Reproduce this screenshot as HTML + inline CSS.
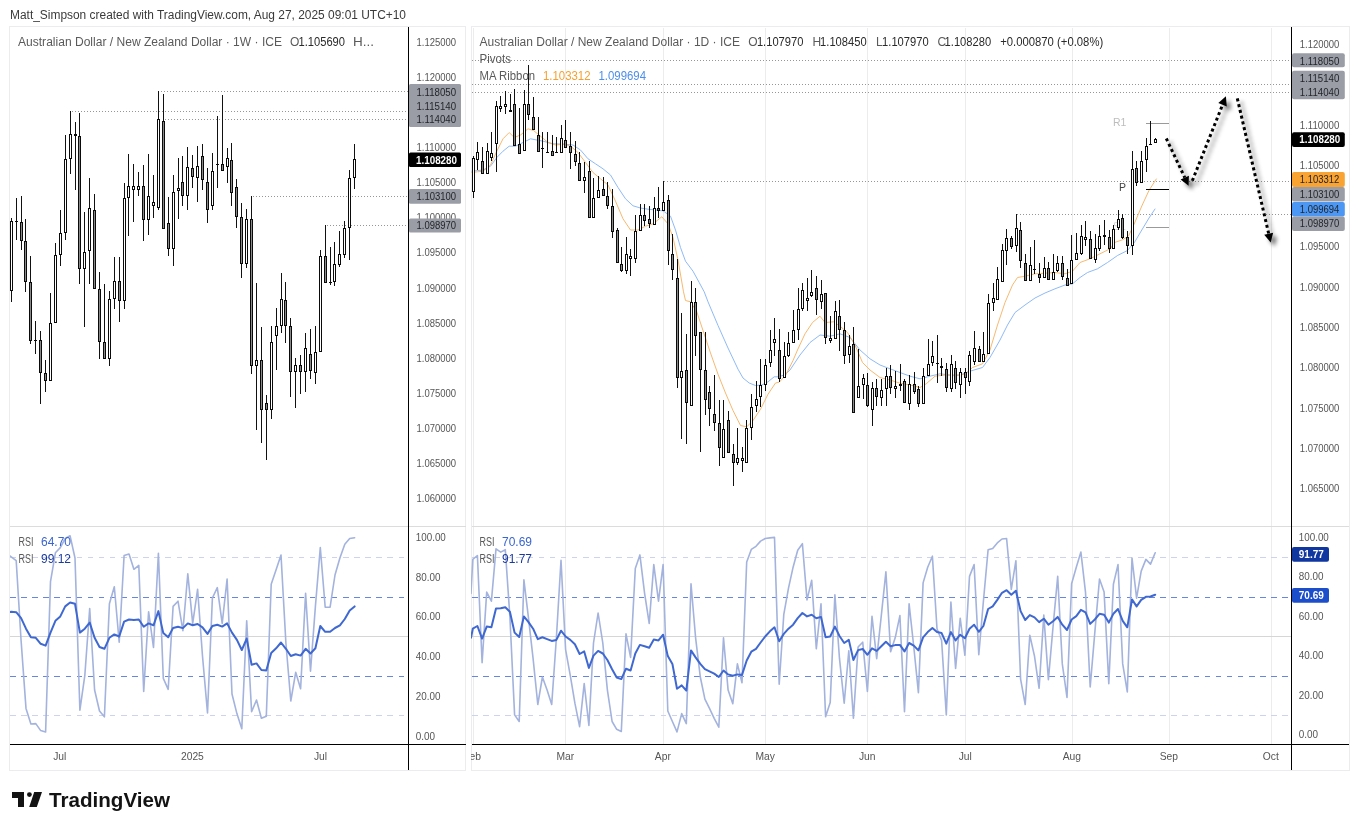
<!DOCTYPE html>
<html lang="en"><head><meta charset="utf-8"><title>AUD/NZD TradingView chart</title>
<style>html,body{margin:0;padding:0;background:#fff}body{width:1359px;height:830px;overflow:hidden}svg{display:block;will-change:transform}</style>
</head><body>
<svg width="1359" height="830" viewBox="0 0 1359 830" font-family='"Liberation Sans", sans-serif'>
<defs><filter id="sh" x="-20%" y="-20%" width="150%" height="150%"><feGaussianBlur in="SourceAlpha" stdDeviation="2.2"/><feOffset dx="3.5" dy="3.5"/><feComponentTransfer><feFuncA type="linear" slope="0.55"/></feComponentTransfer><feMerge><feMergeNode/><feMergeNode in="SourceGraphic"/></feMerge></filter>
<clipPath id="cl"><rect x="10" y="28" width="399" height="716"/></clipPath><clipPath id="cr"><rect x="471" y="28" width="821" height="716"/></clipPath><clipPath id="ct"><rect x="471" y="745" width="821" height="25"/></clipPath></defs>
<rect width="1359" height="830" fill="#fff"/>
<text x="10" y="18.5" font-size="12.5" fill="#3a3a3a" textLength="396" lengthAdjust="spacingAndGlyphs">Matt_Simpson created with TradingView.com, Aug 27, 2025 09:01 UTC+10</text>
<g fill="none" stroke="#ececee" stroke-width="1" shape-rendering="crispEdges">
<rect x="9.5" y="26.5" width="456" height="743.5"/>
<rect x="471.5" y="26.5" width="877.5" height="743.5"/>
</g>
<rect x="473" y="28" width="1" height="716" fill="#ececec"/>
<rect x="565" y="28" width="1" height="716" fill="#ececec"/>
<rect x="663" y="28" width="1" height="716" fill="#ececec"/>
<rect x="765" y="28" width="1" height="716" fill="#ececec"/>
<rect x="867" y="28" width="1" height="716" fill="#ececec"/>
<rect x="965" y="28" width="1" height="716" fill="#ececec"/>
<rect x="1072" y="28" width="1" height="716" fill="#ececec"/>
<rect x="1169" y="28" width="1" height="716" fill="#ececec"/>
<rect x="1271" y="28" width="1" height="716" fill="#ececec"/>
<rect x="10" y="526" width="456" height="1" fill="#dcdcdc"/>
<rect x="472" y="526" width="877" height="1" fill="#dcdcdc"/>
<g fill="none" stroke-width="1" shape-rendering="crispEdges">
<path d="M10 557.5H408M10 715.5H408" stroke="#cdd3ee" stroke-dasharray="5.5 5.6"/>
<path d="M10 597.5H408M10 676.5H408" stroke="#6885df" stroke-dasharray="5.5 5.6"/>
<path d="M10 636.5H408" stroke="#d6d6d6"/>
</g>
<g fill="none" stroke-width="1" shape-rendering="crispEdges">
<path d="M472 557.5H1291M472 715.5H1291" stroke="#cdd3ee" stroke-dasharray="5.5 5.6"/>
<path d="M472 597.5H1291M472 676.5H1291" stroke="#6885df" stroke-dasharray="5.5 5.6"/>
<path d="M472 636.5H1291" stroke="#d6d6d6"/>
</g>
<g fill="none" stroke="#969696" stroke-width="1" stroke-dasharray="1 2" shape-rendering="crispEdges">
<path d="M161 91.5H408"/>
<path d="M72 111.5H408"/>
<path d="M165 119.5H408"/>
<path d="M253 196.5H408"/>
<path d="M327 225.5H408"/>
<path d="M472 60.5H1291"/>
<path d="M472 84.5H1291"/>
<path d="M472 92.5H1291"/>
<path d="M664 181.5H1291"/>
<path d="M1017 214.5H1291"/>
</g>
<path d="M471.8 171.2 L483.0 170.0 L490.5 166.2 L496.8 157.5 L503.0 151.2 L509.2 146.2 L515.5 146.2 L523.0 142.5 L530.5 138.8 L536.8 140.0 L543.0 141.2 L553.0 143.8 L564.2 144.2 L573.0 145.0 L580.5 150.0 L588.0 158.8 L595.5 163.8 L603.0 168.8 L610.5 175.0 L618.0 187.5 L625.5 198.8 L633.0 205.8 L640.5 208.0 L648.0 209.2 L655.5 210.0 L663.0 210.8 L670.5 216.2 L675.5 230.0 L680.5 247.5 L685.5 261.2 L693.0 271.2 L699.2 282.5 L704.2 291.8 L708.0 301.8 L718.0 325.5 L728.0 348.0 L738.0 369.2 L743.0 378.0 L749.2 383.0 L755.5 385.5 L761.8 385.0 L768.0 381.8 L774.2 376.8 L779.2 376.8 L785.5 374.2 L790.0 370.0 L800.0 355.0 L810.0 342.5 L820.0 335.0 L830.0 336.2 L840.0 333.8 L850.0 337.5 L860.0 350.0 L870.0 358.8 L880.0 365.0 L890.0 368.8 L900.0 372.5 L910.0 376.2 L920.0 378.8 L930.0 376.2 L940.0 373.8 L950.0 375.0 L960.0 375.0 L970.0 371.2 L982.5 367.5 L990.0 357.5 L1000.0 340.0 L1007.5 325.0 L1015.0 312.5 L1025.0 305.0 L1035.0 298.0 L1045.0 293.0 L1055.0 288.8 L1065.0 285.0 L1072.5 283.8 L1080.0 277.5 L1087.5 272.5 L1097.5 268.8 L1107.5 262.5 L1117.7 255.4 L1127.3 250.6 L1134.6 242.2 L1141.8 230.0 L1149.0 218.0 L1155.0 209.0" fill="none" stroke="#8fbaf6" stroke-width="1.0" stroke-linejoin="round" stroke-linecap="round" clip-path="url(#cr)"/>
<path d="M471.8 172.5 L483.0 171.2 L490.5 165.0 L496.8 151.2 L503.0 138.8 L509.2 132.5 L514.2 137.5 L520.5 135.0 L528.0 128.8 L533.5 130.5 L540.5 136.2 L548.0 142.5 L555.5 145.0 L564.2 144.2 L570.5 146.2 L578.0 152.5 L585.5 162.5 L593.0 172.5 L600.5 178.8 L608.0 185.0 L615.5 201.2 L623.0 218.8 L630.5 230.0 L638.0 230.0 L645.5 226.2 L653.0 223.8 L661.8 216.8 L668.0 223.8 L673.0 237.5 L678.0 260.0 L683.5 291.8 L685.5 300.5 L690.5 301.8 L696.8 311.8 L703.0 330.5 L710.5 353.0 L718.0 374.2 L725.5 393.0 L733.0 410.5 L740.5 425.5 L746.8 426.8 L753.0 420.5 L760.5 409.2 L768.0 394.2 L775.5 383.0 L779.2 382.2 L785.5 375.5 L793.0 360.5 L797.5 350.0 L805.0 333.8 L812.5 322.5 L820.0 316.2 L825.0 322.5 L833.8 321.8 L840.0 326.2 L847.5 332.5 L855.0 345.0 L862.5 362.5 L870.0 370.0 L880.0 377.5 L890.0 380.0 L900.0 383.2 L910.0 385.0 L920.0 387.5 L926.2 383.8 L935.0 376.2 L945.0 375.0 L955.0 375.8 L965.0 374.2 L972.5 367.5 L982.5 363.8 L990.0 350.0 L997.5 325.0 L1005.0 302.5 L1012.5 285.0 L1017.5 277.5 L1025.0 276.2 L1035.0 273.8 L1045.0 273.2 L1055.0 272.5 L1065.0 273.8 L1072.5 271.2 L1080.0 262.5 L1090.0 258.8 L1100.0 253.8 L1110.0 248.8 L1115.3 242.2 L1122.5 239.8 L1128.6 236.0 L1134.6 223.0 L1141.8 206.0 L1149.0 190.4 L1156.3 179.0" fill="none" stroke="#f7b970" stroke-width="1.0" stroke-linejoin="round" stroke-linecap="round" clip-path="url(#cr)"/>
<g shape-rendering="crispEdges">
<rect x="1146" y="123" width="23" height="1" fill="#9a9a9a"/>
<rect x="1146" y="189" width="23" height="1" fill="#000"/>
<rect x="1146" y="227" width="23" height="1" fill="#9a9a9a"/>
</g>
<text x="1113" y="125.5" font-size="10.5" fill="#bdbdbd">R1</text>
<text x="1113" y="229.5" font-size="10.5" fill="#d4d4d4">S1</text>
<text x="1119" y="191.3" font-size="10.5" fill="#444">P</text>
<g shape-rendering="crispEdges" clip-path="url(#cl)">
<path d="M11 218h1v84h-1zM16 198h1v42h-1zM21 196h1v54h-1zM25 219h1v73h-1zM30 256h1v88h-1zM35 321h1v33h-1zM40 331h1v73h-1zM45 360h1v32h-1zM50 293h1v88h-1zM55 243h1v80h-1zM60 210h1v56h-1zM65 135h1v105h-1zM70 111h1v63h-1zM75 122h1v68h-1zM79 113h1v171h-1zM84 212h1v115h-1zM89 178h1v106h-1zM94 194h1v95h-1zM99 272h1v87h-1zM104 284h1v75h-1zM109 291h1v75h-1zM114 257h1v52h-1zM119 257h1v65h-1zM124 183h1v126h-1zM128 154h1v82h-1zM133 164h1v58h-1zM138 172h1v24h-1zM143 165h1v76h-1zM148 154h1v81h-1zM153 175h1v43h-1zM158 91h1v119h-1zM163 94h1v135h-1zM168 197h1v59h-1zM173 175h1v91h-1zM178 158h1v61h-1zM182 156h1v50h-1zM187 147h1v63h-1zM192 155h1v33h-1zM197 146h1v56h-1zM202 144h1v46h-1zM207 168h1v55h-1zM212 153h1v57h-1zM217 116h1v72h-1zM222 95h1v76h-1zM227 148h1v35h-1zM231 143h1v63h-1zM236 179h1v49h-1zM241 203h1v75h-1zM246 209h1v59h-1zM251 196h1v178h-1zM256 283h1v147h-1zM261 327h1v116h-1zM266 395h1v65h-1zM271 326h1v93h-1zM276 308h1v62h-1zM281 273h1v60h-1zM285 282h1v61h-1zM290 318h1v79h-1zM295 358h1v50h-1zM300 355h1v39h-1zM305 333h1v59h-1zM310 329h1v50h-1zM315 326h1v58h-1zM320 250h1v102h-1zM325 225h1v58h-1zM330 247h1v38h-1zM334 242h1v44h-1zM339 231h1v36h-1zM344 221h1v37h-1zM349 170h1v90h-1zM354 144h1v45h-1z" fill="#111"/>
<path d="M10 221h3v70h-3zM15 221h3v1h-3zM20 222h3v19h-3zM24 241h3v41h-3zM29 282h3v59h-3zM34 340h3v1h-3zM39 340h3v33h-3zM44 373h3v8h-3zM49 323h3v58h-3zM54 255h3v68h-3zM59 233h3v22h-3zM64 159h3v74h-3zM69 134h3v25h-3zM74 134h3v2h-3zM78 136h3v133h-3zM83 252h3v17h-3zM88 208h3v43h-3zM93 210h3v79h-3zM98 289h3v53h-3zM103 342h3v17h-3zM108 299h3v60h-3zM113 281h3v18h-3zM118 281h3v20h-3zM123 198h3v103h-3zM127 186h3v12h-3zM132 186h3v4h-3zM137 186h3v4h-3zM142 186h3v34h-3zM147 196h3v24h-3zM152 202h3v4h-3zM157 119h3v89h-3zM162 121h3v108h-3zM167 223h3v26h-3zM172 192h3v57h-3zM177 188h3v3h-3zM181 182h3v14h-3zM186 167h3v29h-3zM191 168h3v9h-3zM196 166h3v12h-3zM201 156h3v24h-3zM206 182h3v28h-3zM211 171h3v35h-3zM216 164h3v1h-3zM221 164h3v7h-3zM226 158h3v9h-3zM230 160h3v33h-3zM235 187h3v30h-3zM240 217h3v47h-3zM245 219h3v45h-3zM250 219h3v147h-3zM255 360h3v6h-3zM260 360h3v50h-3zM265 403h3v7h-3zM270 342h3v68h-3zM275 326h3v10h-3zM280 299h3v27h-3zM284 300h3v26h-3zM289 326h3v46h-3zM294 365h3v7h-3zM299 365h3v7h-3zM304 348h3v24h-3zM309 354h3v17h-3zM314 352h3v21h-3zM319 256h3v96h-3zM324 256h3v27h-3zM329 282h3v1h-3zM333 264h3v18h-3zM338 254h3v11h-3zM343 228h3v27h-3zM348 178h3v50h-3zM353 159h3v19h-3z" fill="#0a0a0a"/>
<path d="M11 222h1v68h-1zM50 324h1v56h-1zM55 256h1v66h-1zM60 234h1v20h-1zM65 160h1v72h-1zM70 135h1v23h-1zM84 253h1v15h-1zM89 209h1v41h-1zM109 300h1v58h-1zM114 282h1v16h-1zM124 199h1v101h-1zM128 187h1v10h-1zM133 187h1v2h-1zM138 187h1v2h-1zM148 197h1v22h-1zM153 203h1v2h-1zM158 120h1v87h-1zM173 193h1v55h-1zM178 189h1v1h-1zM187 168h1v27h-1zM197 167h1v10h-1zM212 172h1v33h-1zM227 159h1v7h-1zM246 220h1v43h-1zM256 361h1v4h-1zM271 343h1v66h-1zM276 327h1v8h-1zM281 300h1v25h-1zM295 366h1v5h-1zM305 349h1v22h-1zM315 353h1v19h-1zM320 257h1v94h-1zM334 265h1v16h-1zM339 255h1v9h-1zM344 229h1v25h-1zM349 179h1v48h-1zM354 160h1v17h-1z" fill="#fff"/>
<path d="M21 223h1v17h-1zM25 242h1v39h-1zM30 283h1v57h-1zM40 341h1v31h-1zM45 374h1v6h-1zM79 137h1v131h-1zM94 211h1v77h-1zM99 290h1v51h-1zM104 343h1v15h-1zM119 282h1v18h-1zM143 187h1v32h-1zM163 122h1v106h-1zM168 224h1v24h-1zM182 183h1v12h-1zM192 169h1v7h-1zM202 157h1v22h-1zM207 183h1v26h-1zM222 165h1v5h-1zM231 161h1v31h-1zM236 188h1v28h-1zM241 218h1v45h-1zM251 220h1v145h-1zM261 361h1v48h-1zM266 404h1v5h-1zM285 301h1v24h-1zM290 327h1v44h-1zM300 366h1v5h-1zM310 355h1v15h-1zM325 257h1v25h-1z" fill="#8a8a8a"/>
</g>
<g shape-rendering="crispEdges" clip-path="url(#cr)">
<path d="M473 156h1v42h-1zM477 142h1v28h-1zM482 147h1v27h-1zM487 143h1v31h-1zM491 132h1v29h-1zM496 101h1v71h-1zM500 96h1v16h-1zM505 91h1v23h-1zM510 94h1v18h-1zM514 89h1v57h-1zM519 108h1v46h-1zM524 90h1v61h-1zM528 65h1v55h-1zM533 97h1v33h-1zM538 117h1v35h-1zM542 132h1v36h-1zM547 132h1v21h-1zM552 135h1v21h-1zM556 137h1v16h-1zM561 125h1v28h-1zM565 120h1v28h-1zM570 132h1v37h-1zM575 141h1v25h-1zM579 152h1v29h-1zM584 162h1v31h-1zM589 161h1v57h-1zM593 178h1v40h-1zM598 176h1v22h-1zM603 177h1v19h-1zM607 182h1v27h-1zM612 189h1v49h-1zM617 228h1v35h-1zM621 247h1v25h-1zM626 237h1v37h-1zM630 249h1v27h-1zM635 215h1v48h-1zM640 204h1v27h-1zM644 204h1v22h-1zM649 206h1v22h-1zM654 197h1v28h-1zM658 187h1v31h-1zM663 181h1v30h-1zM668 195h1v70h-1zM672 234h1v46h-1zM677 259h1v129h-1zM681 313h1v126h-1zM686 334h1v110h-1zM691 281h1v125h-1zM695 288h1v68h-1zM700 332h1v120h-1zM705 332h1v83h-1zM709 386h1v40h-1zM714 375h1v56h-1zM719 400h1v66h-1zM723 400h1v58h-1zM728 411h1v42h-1zM733 444h1v42h-1zM737 428h1v37h-1zM742 447h1v25h-1zM746 420h1v43h-1zM751 394h1v46h-1zM756 381h1v31h-1zM760 359h1v48h-1zM765 359h1v32h-1zM770 330h1v37h-1zM774 318h1v38h-1zM779 329h1v53h-1zM784 342h1v36h-1zM788 332h1v25h-1zM793 310h1v33h-1zM798 288h1v52h-1zM802 283h1v28h-1zM807 278h1v33h-1zM811 270h1v27h-1zM816 276h1v39h-1zM821 280h1v29h-1zM825 293h1v51h-1zM830 316h1v27h-1zM835 301h1v38h-1zM839 300h1v51h-1zM844 322h1v42h-1zM849 335h1v28h-1zM853 327h1v86h-1zM858 349h1v49h-1zM863 374h1v25h-1zM867 373h1v34h-1zM872 382h1v44h-1zM876 379h1v27h-1zM881 379h1v27h-1zM886 368h1v38h-1zM890 365h1v29h-1zM895 371h1v27h-1zM900 364h1v27h-1zM904 379h1v24h-1zM909 375h1v35h-1zM914 372h1v22h-1zM918 386h1v21h-1zM923 368h1v36h-1zM928 339h1v37h-1zM932 341h1v25h-1zM937 335h1v48h-1zM941 358h1v18h-1zM946 363h1v29h-1zM951 355h1v37h-1zM955 361h1v28h-1zM960 368h1v30h-1zM965 368h1v26h-1zM969 351h1v35h-1zM974 331h1v34h-1zM979 346h1v16h-1zM983 332h1v30h-1zM988 294h1v60h-1zM993 283h1v28h-1zM997 267h1v33h-1zM1002 244h1v38h-1zM1006 229h1v36h-1zM1011 236h1v13h-1zM1016 214h1v38h-1zM1020 222h1v46h-1zM1025 254h1v27h-1zM1030 247h1v34h-1zM1034 240h1v34h-1zM1039 263h1v20h-1zM1044 257h1v21h-1zM1048 262h1v18h-1zM1053 254h1v26h-1zM1057 256h1v16h-1zM1062 256h1v24h-1zM1067 269h1v17h-1zM1071 235h1v49h-1zM1076 233h1v27h-1zM1081 225h1v30h-1zM1085 221h1v25h-1zM1090 231h1v28h-1zM1095 234h1v29h-1zM1099 225h1v26h-1zM1104 220h1v25h-1zM1109 230h1v23h-1zM1113 225h1v24h-1zM1118 210h1v20h-1zM1122 214h1v25h-1zM1127 231h1v23h-1zM1132 151h1v104h-1zM1136 161h1v25h-1zM1141 151h1v32h-1zM1146 138h1v34h-1zM1150 121h1v24h-1zM1155 138h1v5h-1z" fill="#111"/>
<path d="M472 158h3v34h-3zM476 152h3v8h-3zM481 161h3v13h-3zM486 151h3v23h-3zM490 153h3v5h-3zM495 106h3v38h-3zM499 106h3v3h-3zM504 104h3v3h-3zM509 110h3v2h-3zM513 104h3v42h-3zM518 144h3v10h-3zM523 104h3v47h-3zM527 104h3v11h-3zM532 117h3v13h-3zM537 135h3v17h-3zM541 148h3v1h-3zM546 152h3v1h-3zM551 151h3v5h-3zM555 152h3v1h-3zM560 138h3v15h-3zM564 140h3v8h-3zM569 146h3v7h-3zM574 154h3v8h-3zM578 163h3v18h-3zM583 177h3v4h-3zM588 171h3v47h-3zM592 198h3v20h-3zM597 190h3v8h-3zM602 189h3v7h-3zM606 196h3v10h-3zM611 206h3v26h-3zM616 230h3v33h-3zM620 264h3v7h-3zM625 254h3v17h-3zM629 256h3v3h-3zM634 231h3v28h-3zM639 215h3v16h-3zM643 215h3v6h-3zM648 219h3v5h-3zM653 208h3v17h-3zM657 208h3v3h-3zM662 202h3v9h-3zM667 200h3v51h-3zM671 254h3v16h-3zM676 278h3v100h-3zM680 371h3v7h-3zM685 370h3v33h-3zM690 302h3v104h-3zM694 302h3v34h-3zM699 332h3v38h-3zM704 370h3v30h-3zM708 392h3v17h-3zM713 414h3v9h-3zM718 423h3v25h-3zM722 429h3v29h-3zM727 420h3v33h-3zM732 454h3v9h-3zM736 458h3v5h-3zM741 458h3v3h-3zM745 428h3v35h-3zM750 407h3v21h-3zM755 399h3v7h-3zM759 385h3v12h-3zM764 365h3v20h-3zM769 350h3v13h-3zM773 339h3v4h-3zM778 350h3v29h-3zM783 356h3v22h-3zM787 343h3v13h-3zM792 330h3v13h-3zM797 309h3v21h-3zM801 290h3v19h-3zM806 298h3v3h-3zM810 292h3v4h-3zM815 288h3v12h-3zM820 294h3v8h-3zM824 293h3v45h-3zM829 338h3v3h-3zM834 311h3v28h-3zM838 316h3v14h-3zM843 330h3v26h-3zM848 346h3v9h-3zM852 344h3v69h-3zM857 386h3v12h-3zM862 378h3v7h-3zM866 385h3v21h-3zM871 388h3v22h-3zM875 388h3v9h-3zM880 390h3v8h-3zM885 376h3v13h-3zM889 376h3v12h-3zM894 386h3v3h-3zM899 384h3v2h-3zM903 381h3v22h-3zM908 384h3v20h-3zM913 384h3v8h-3zM917 389h3v15h-3zM922 376h3v28h-3zM927 364h3v12h-3zM931 356h3v7h-3zM936 363h3v1h-3zM940 366h3v2h-3zM945 369h3v19h-3zM950 364h3v25h-3zM954 368h3v15h-3zM959 372h3v13h-3zM964 372h3v6h-3zM968 355h3v27h-3zM973 348h3v14h-3zM978 349h3v13h-3zM982 354h3v8h-3zM987 303h3v51h-3zM992 298h3v5h-3zM996 279h3v21h-3zM1001 250h3v32h-3zM1005 238h3v13h-3zM1010 238h3v9h-3zM1015 228h3v18h-3zM1019 230h3v31h-3zM1024 263h3v18h-3zM1029 265h3v16h-3zM1033 269h3v1h-3zM1038 274h3v4h-3zM1043 268h3v10h-3zM1047 268h3v12h-3zM1052 272h3v8h-3zM1056 263h3v8h-3zM1061 263h3v14h-3zM1066 278h3v8h-3zM1070 260h3v24h-3zM1075 253h3v7h-3zM1080 236h3v18h-3zM1084 237h3v3h-3zM1089 239h3v20h-3zM1094 248h3v12h-3zM1098 236h3v13h-3zM1103 235h3v2h-3zM1108 237h3v12h-3zM1112 229h3v20h-3zM1117 219h3v9h-3zM1121 218h3v20h-3zM1126 237h3v9h-3zM1131 169h3v77h-3zM1135 168h3v15h-3zM1140 161h3v22h-3zM1145 146h3v14h-3zM1149 144h3v1h-3zM1154 139h3v4h-3z" fill="#0a0a0a"/>
<path d="M473 159h1v32h-1zM477 153h1v6h-1zM487 152h1v21h-1zM491 154h1v3h-1zM496 107h1v36h-1zM500 107h1v1h-1zM505 105h1v1h-1zM524 105h1v45h-1zM561 139h1v13h-1zM584 178h1v2h-1zM593 199h1v18h-1zM598 191h1v6h-1zM626 255h1v15h-1zM630 257h1v1h-1zM635 232h1v26h-1zM640 216h1v14h-1zM654 209h1v15h-1zM663 203h1v7h-1zM681 372h1v5h-1zM691 303h1v102h-1zM723 430h1v27h-1zM737 459h1v3h-1zM742 459h1v1h-1zM746 429h1v33h-1zM751 408h1v19h-1zM756 400h1v5h-1zM760 386h1v10h-1zM765 366h1v18h-1zM770 351h1v11h-1zM774 340h1v2h-1zM784 357h1v20h-1zM788 344h1v11h-1zM793 331h1v11h-1zM798 310h1v19h-1zM802 291h1v17h-1zM807 299h1v1h-1zM811 293h1v2h-1zM821 295h1v6h-1zM830 339h1v1h-1zM835 312h1v26h-1zM849 347h1v7h-1zM858 387h1v10h-1zM863 379h1v5h-1zM872 389h1v20h-1zM881 391h1v6h-1zM886 377h1v11h-1zM895 387h1v1h-1zM909 385h1v18h-1zM923 377h1v26h-1zM928 365h1v10h-1zM932 357h1v5h-1zM951 365h1v23h-1zM960 373h1v11h-1zM969 356h1v25h-1zM974 349h1v12h-1zM983 355h1v6h-1zM988 304h1v49h-1zM993 299h1v3h-1zM997 280h1v19h-1zM1002 251h1v30h-1zM1006 239h1v11h-1zM1016 229h1v16h-1zM1030 266h1v14h-1zM1044 269h1v8h-1zM1053 273h1v6h-1zM1057 264h1v6h-1zM1071 261h1v22h-1zM1076 254h1v5h-1zM1081 237h1v16h-1zM1085 238h1v1h-1zM1095 249h1v10h-1zM1099 237h1v11h-1zM1113 230h1v18h-1zM1118 220h1v7h-1zM1132 170h1v75h-1zM1141 162h1v20h-1zM1146 147h1v12h-1zM1155 140h1v2h-1z" fill="#fff"/>
<path d="M482 162h1v11h-1zM514 105h1v40h-1zM519 145h1v8h-1zM528 105h1v9h-1zM533 118h1v11h-1zM538 136h1v15h-1zM552 152h1v3h-1zM565 141h1v6h-1zM570 147h1v5h-1zM575 155h1v6h-1zM579 164h1v16h-1zM589 172h1v45h-1zM603 190h1v5h-1zM607 197h1v8h-1zM612 207h1v24h-1zM617 231h1v31h-1zM621 265h1v5h-1zM644 216h1v4h-1zM649 220h1v3h-1zM658 209h1v1h-1zM668 201h1v49h-1zM672 255h1v14h-1zM677 279h1v98h-1zM686 371h1v31h-1zM695 303h1v32h-1zM700 333h1v36h-1zM705 371h1v28h-1zM709 393h1v15h-1zM714 415h1v7h-1zM719 424h1v23h-1zM728 421h1v31h-1zM733 455h1v7h-1zM779 351h1v27h-1zM816 289h1v10h-1zM825 294h1v43h-1zM839 317h1v12h-1zM844 331h1v24h-1zM853 345h1v67h-1zM867 386h1v19h-1zM876 389h1v7h-1zM890 377h1v10h-1zM904 382h1v20h-1zM914 385h1v6h-1zM918 390h1v13h-1zM946 370h1v17h-1zM955 369h1v13h-1zM965 373h1v4h-1zM979 350h1v11h-1zM1011 239h1v7h-1zM1020 231h1v29h-1zM1025 264h1v16h-1zM1039 275h1v2h-1zM1048 269h1v10h-1zM1062 264h1v12h-1zM1067 279h1v6h-1zM1090 240h1v18h-1zM1109 238h1v10h-1zM1122 219h1v18h-1zM1127 238h1v7h-1zM1136 169h1v13h-1z" fill="#8a8a8a"/>
</g>
<path d="M10.0 556.0 L11.2 556.8 L16.2 560.7 L21.1 640.7 L26.0 708.4 L30.9 724.0 L35.8 723.6 L40.7 730.6 L45.6 732.0 L50.5 581.6 L55.4 552.8 L60.3 547.6 L65.2 538.5 L70.1 535.8 L75.0 558.0 L79.9 710.2 L84.8 675.7 L89.7 608.5 L94.6 690.0 L99.5 711.0 L104.4 716.8 L109.4 603.8 L114.3 586.8 L119.2 642.2 L124.1 555.5 L129.0 554.0 L133.9 569.3 L138.8 565.4 L143.7 691.4 L148.6 611.7 L153.5 647.5 L158.4 553.4 L163.3 678.3 L168.2 689.3 L173.1 606.4 L178.0 601.2 L182.9 630.7 L187.8 573.8 L192.7 623.4 L197.6 589.4 L202.5 656.0 L207.5 713.0 L212.4 598.0 L217.3 587.6 L222.2 623.4 L227.1 579.0 L232.0 694.0 L236.9 713.6 L241.8 728.8 L246.7 620.8 L251.6 711.8 L256.5 700.0 L261.4 718.3 L266.3 716.2 L271.2 584.2 L276.1 569.8 L281.0 555.0 L285.9 643.0 L290.8 701.0 L295.7 672.3 L300.6 688.8 L305.6 593.4 L310.5 671.3 L315.4 606.4 L320.3 547.6 L325.2 607.2 L330.1 607.2 L335.0 575.0 L339.9 558.0 L344.8 544.2 L349.7 538.5 L354.6 537.7" fill="none" stroke="#a3b3dd" stroke-width="1.6" stroke-linejoin="round" stroke-linecap="round" clip-path="url(#cl)"/>
<path d="M10.0 612.0 L11.2 611.7 L16.2 612.2 L21.1 618.2 L26.0 628.7 L30.9 637.3 L35.8 637.8 L40.7 643.8 L45.6 645.6 L50.5 632.6 L55.4 620.8 L60.3 616.4 L65.2 606.4 L70.1 602.5 L75.0 603.8 L79.9 632.6 L84.8 628.7 L89.7 622.6 L94.6 637.8 L99.5 647.0 L104.4 648.8 L109.4 637.8 L114.3 634.4 L119.2 636.5 L124.1 621.6 L129.0 619.5 L133.9 620.0 L138.8 619.5 L143.7 626.8 L148.6 623.4 L153.5 625.3 L158.4 611.1 L163.3 633.1 L168.2 637.3 L173.1 627.9 L178.0 626.8 L182.9 628.1 L187.8 623.4 L192.7 625.3 L197.6 624.0 L202.5 627.3 L207.5 633.9 L212.4 626.0 L217.3 624.7 L222.2 626.6 L227.1 623.4 L232.0 632.6 L236.9 639.9 L241.8 650.0 L246.7 638.6 L251.6 664.7 L256.5 663.4 L261.4 670.0 L266.3 670.5 L271.2 653.0 L276.1 648.3 L281.0 642.5 L285.9 648.8 L290.8 656.0 L295.7 654.3 L300.6 655.6 L305.6 648.8 L310.5 653.5 L315.4 648.3 L320.3 626.0 L325.2 631.8 L330.1 631.8 L335.0 628.0 L339.9 625.3 L344.8 619.0 L349.7 610.4 L354.6 606.4" fill="none" stroke="#3f68d1" stroke-width="2" stroke-linejoin="round" stroke-linecap="round" clip-path="url(#cl)"/>
<path d="M471.0 593.4 L472.8 559.4 L477.4 555.5 L482.1 662.6 L486.7 592.1 L491.4 601.2 L496.0 548.9 L500.7 552.1 L505.3 549.7 L509.9 616.9 L514.6 714.9 L519.2 721.5 L523.9 579.8 L528.5 618.2 L533.1 658.7 L537.8 704.5 L542.4 677.0 L547.1 690.1 L551.7 704.5 L556.4 637.8 L561.0 560.2 L565.6 649.6 L570.3 675.7 L574.9 703.2 L579.6 726.7 L584.2 683.6 L588.9 725.4 L593.5 643.0 L598.1 613.0 L602.8 643.0 L607.4 690.1 L612.1 721.5 L616.7 729.3 L621.3 731.4 L626.0 633.9 L630.6 657.4 L635.3 568.5 L639.9 554.9 L644.6 593.4 L649.2 623.4 L653.8 564.6 L658.5 601.2 L663.1 564.6 L667.8 711.0 L672.4 721.5 L677.0 731.9 L681.7 713.6 L686.3 723.6 L691.0 583.7 L695.6 637.8 L700.3 677.0 L704.9 699.2 L709.5 708.4 L714.2 718.3 L718.8 727.2 L723.5 637.8 L728.1 690.1 L732.8 703.7 L737.4 663.9 L742.0 682.8 L746.7 562.0 L751.3 549.4 L756.0 546.3 L760.6 541.1 L765.2 538.5 L769.9 537.9 L774.5 537.4 L779.2 684.3 L783.8 614.3 L788.5 588.1 L793.1 567.2 L797.7 550.2 L802.4 543.7 L807.0 599.9 L811.7 580.3 L816.3 648.8 L821.0 603.8 L825.6 716.8 L830.2 702.6 L834.9 594.7 L839.5 658.7 L844.2 703.2 L848.8 650.9 L853.4 718.1 L858.1 647.0 L862.7 642.2 L867.4 691.4 L872.0 616.4 L876.7 658.7 L881.3 615.6 L885.9 571.9 L890.6 651.7 L895.2 637.8 L899.9 615.6 L904.5 711.8 L909.1 603.8 L913.8 647.0 L918.4 692.7 L923.1 582.9 L927.7 567.2 L932.4 556.2 L937.0 628.7 L941.6 640.4 L946.3 714.9 L950.9 602.0 L955.6 668.4 L960.2 618.2 L964.9 655.3 L969.5 576.4 L974.1 564.6 L978.8 654.8 L983.4 601.2 L988.1 549.7 L992.7 548.4 L997.3 542.9 L1002.0 539.0 L1006.6 538.5 L1011.3 589.4 L1015.9 560.7 L1020.6 679.1 L1025.2 704.5 L1029.8 635.2 L1034.5 656.1 L1039.1 688.3 L1043.8 615.1 L1048.4 679.6 L1053.0 627.3 L1057.7 576.4 L1062.3 663.9 L1067.0 697.4 L1071.6 583.7 L1076.3 567.2 L1080.9 552.1 L1085.5 592.1 L1090.2 687.0 L1094.8 632.6 L1099.5 579.0 L1104.1 592.1 L1108.8 683.6 L1113.4 584.2 L1118.0 564.6 L1122.7 663.9 L1127.3 691.9 L1132.0 558.1 L1136.6 598.1 L1141.2 571.1 L1145.9 559.4 L1150.5 564.1 L1155.2 552.8" fill="none" stroke="#a3b3dd" stroke-width="1.6" stroke-linejoin="round" stroke-linecap="round" clip-path="url(#cr)"/>
<path d="M471.0 637.8 L472.8 628.7 L477.4 626.0 L482.1 638.6 L486.7 626.6 L491.4 627.3 L496.0 608.5 L500.7 608.3 L505.3 607.2 L509.9 611.7 L514.6 632.6 L519.2 637.0 L523.9 616.4 L528.5 622.1 L533.1 628.7 L537.8 639.1 L542.4 637.3 L547.1 639.1 L551.7 640.9 L556.4 639.9 L561.0 630.7 L565.6 636.5 L570.3 639.9 L574.9 644.3 L579.6 654.0 L584.2 651.4 L588.9 667.9 L593.5 655.6 L598.1 650.9 L602.8 653.5 L607.4 660.0 L612.1 669.2 L616.7 677.5 L621.3 679.1 L626.0 668.7 L630.6 670.5 L635.3 653.5 L639.9 644.9 L644.6 646.2 L649.2 647.7 L653.8 639.6 L658.5 640.4 L663.1 634.7 L667.8 656.1 L672.4 663.9 L677.0 688.8 L681.7 685.4 L686.3 690.6 L691.0 650.4 L695.6 657.4 L700.3 663.9 L704.9 669.2 L709.5 671.3 L714.2 673.6 L718.8 677.0 L723.5 670.5 L728.1 674.4 L732.8 675.7 L737.4 674.4 L742.0 674.9 L746.7 660.5 L751.3 651.7 L756.0 648.8 L760.6 642.5 L765.2 636.5 L769.9 631.3 L774.5 627.3 L779.2 641.2 L783.8 633.9 L788.5 628.7 L793.1 624.7 L797.7 618.2 L802.4 613.0 L807.0 616.4 L811.7 614.8 L816.3 618.2 L821.0 616.9 L825.6 637.3 L830.2 636.5 L834.9 626.6 L839.5 636.0 L844.2 643.0 L848.8 639.9 L853.4 660.0 L858.1 650.1 L862.7 649.0 L867.4 654.8 L872.0 648.3 L876.7 650.9 L881.3 646.2 L885.9 641.7 L890.6 646.2 L895.2 645.1 L899.9 644.9 L904.5 651.4 L909.1 643.0 L913.8 645.6 L918.4 650.4 L923.1 637.3 L927.7 632.1 L932.4 628.1 L937.0 632.1 L941.6 633.1 L946.3 643.6 L950.9 632.1 L955.6 640.4 L960.2 634.7 L964.9 638.3 L969.5 628.7 L974.1 624.7 L978.8 631.8 L983.4 626.0 L988.1 609.0 L992.7 606.4 L997.3 599.9 L1002.0 592.8 L1006.6 590.2 L1011.3 594.7 L1015.9 590.7 L1020.6 611.1 L1025.2 620.0 L1029.8 615.1 L1034.5 617.4 L1039.1 622.1 L1043.8 618.7 L1048.4 624.7 L1053.0 621.3 L1057.7 616.9 L1062.3 624.7 L1067.0 630.0 L1071.6 619.5 L1076.3 616.1 L1080.9 609.8 L1085.5 612.4 L1090.2 623.9 L1094.8 619.5 L1099.5 613.8 L1104.1 614.8 L1108.8 622.6 L1113.4 613.8 L1118.0 609.0 L1122.7 620.8 L1127.3 627.3 L1132.0 599.4 L1136.6 606.4 L1141.2 599.9 L1145.9 596.8 L1150.5 596.5 L1155.2 594.7" fill="none" stroke="#3f68d1" stroke-width="2" stroke-linejoin="round" stroke-linecap="round" clip-path="url(#cr)"/>
<g filter="url(#sh)">
<path d="M1166.3 138.5L1184.8 177.7" stroke="#000" stroke-width="3" stroke-dasharray="3 2.9" fill="none"/>
<path d="M1188.6 185.8L1180.6 179.6L1188.9 175.7z" fill="#000"/>
<path d="M1192.3 180.8L1222.6 104.7" stroke="#000" stroke-width="3" stroke-dasharray="3 2.9" fill="none"/>
<path d="M1225.9 96.3L1226.8 106.4L1218.3 103.0z" fill="#000"/>
<path d="M1237.3 98.4L1268.7 233.7" stroke="#000" stroke-width="3" stroke-dasharray="3 2.9" fill="none"/>
<path d="M1270.7 242.5L1264.2 234.8L1273.1 232.7z" fill="#000"/>
</g>
<g fill="#000" shape-rendering="crispEdges">
<rect x="408" y="27" width="1" height="743"/>
<rect x="1291" y="27" width="1" height="743"/>
<rect x="10" y="744" width="456" height="1"/>
<rect x="472" y="744" width="877" height="1"/>
</g>
<text x="416.5" y="45.9" font-size="10.3" fill="#555" textLength="39.5" lengthAdjust="spacingAndGlyphs">1.125000</text>
<text x="416.5" y="81.0" font-size="10.3" fill="#555" textLength="39.5" lengthAdjust="spacingAndGlyphs">1.120000</text>
<text x="416.5" y="116.1" font-size="10.3" fill="#555" textLength="39.5" lengthAdjust="spacingAndGlyphs">1.115000</text>
<text x="416.5" y="151.1" font-size="10.3" fill="#555" textLength="39.5" lengthAdjust="spacingAndGlyphs">1.110000</text>
<text x="416.5" y="186.2" font-size="10.3" fill="#555" textLength="39.5" lengthAdjust="spacingAndGlyphs">1.105000</text>
<text x="416.5" y="221.3" font-size="10.3" fill="#555" textLength="39.5" lengthAdjust="spacingAndGlyphs">1.100000</text>
<text x="416.5" y="256.4" font-size="10.3" fill="#555" textLength="39.5" lengthAdjust="spacingAndGlyphs">1.095000</text>
<text x="416.5" y="291.5" font-size="10.3" fill="#555" textLength="39.5" lengthAdjust="spacingAndGlyphs">1.090000</text>
<text x="416.5" y="326.5" font-size="10.3" fill="#555" textLength="39.5" lengthAdjust="spacingAndGlyphs">1.085000</text>
<text x="416.5" y="361.6" font-size="10.3" fill="#555" textLength="39.5" lengthAdjust="spacingAndGlyphs">1.080000</text>
<text x="416.5" y="396.7" font-size="10.3" fill="#555" textLength="39.5" lengthAdjust="spacingAndGlyphs">1.075000</text>
<text x="416.5" y="431.8" font-size="10.3" fill="#555" textLength="39.5" lengthAdjust="spacingAndGlyphs">1.070000</text>
<text x="416.5" y="466.9" font-size="10.3" fill="#555" textLength="39.5" lengthAdjust="spacingAndGlyphs">1.065000</text>
<text x="416.5" y="501.9" font-size="10.3" fill="#555" textLength="39.5" lengthAdjust="spacingAndGlyphs">1.060000</text>
<rect x="409" y="84" width="52" height="43" rx="1.5" fill="#9b9da6"/>
<text x="416.5" y="95.6" font-size="10.3" fill="#23252b" textLength="39.5" lengthAdjust="spacingAndGlyphs">1.118050</text>
<text x="416.5" y="109.6" font-size="10.3" fill="#23252b" textLength="39.5" lengthAdjust="spacingAndGlyphs">1.115140</text>
<text x="416.5" y="122.89999999999999" font-size="10.3" fill="#23252b" textLength="39.5" lengthAdjust="spacingAndGlyphs">1.114040</text>
<rect x="409" y="152.5" width="52" height="14.5" rx="1.5" fill="#000"/>
<text x="416" y="163.6" font-size="10.3" fill="#fff" font-weight="bold" textLength="41" lengthAdjust="spacingAndGlyphs">1.108280</text>
<rect x="409" y="189" width="52" height="14.7" rx="1.5" fill="#9b9da6"/>
<text x="416.5" y="200" font-size="10.3" fill="#23252b" textLength="39.5" lengthAdjust="spacingAndGlyphs">1.103100</text>
<rect x="409" y="218.5" width="52" height="14" rx="1.5" fill="#9b9da6"/>
<text x="416.5" y="229.2" font-size="10.3" fill="#23252b" textLength="39.5" lengthAdjust="spacingAndGlyphs">1.098970</text>
<text x="1299.8" y="48.3" font-size="10.3" fill="#555" textLength="39.5" lengthAdjust="spacingAndGlyphs">1.120000</text>
<text x="1299.8" y="88.7" font-size="10.3" fill="#555" textLength="39.5" lengthAdjust="spacingAndGlyphs">1.115000</text>
<text x="1299.8" y="129.0" font-size="10.3" fill="#555" textLength="39.5" lengthAdjust="spacingAndGlyphs">1.110000</text>
<text x="1299.8" y="169.4" font-size="10.3" fill="#555" textLength="39.5" lengthAdjust="spacingAndGlyphs">1.105000</text>
<text x="1299.8" y="250.1" font-size="10.3" fill="#555" textLength="39.5" lengthAdjust="spacingAndGlyphs">1.095000</text>
<text x="1299.8" y="290.5" font-size="10.3" fill="#555" textLength="39.5" lengthAdjust="spacingAndGlyphs">1.090000</text>
<text x="1299.8" y="330.8" font-size="10.3" fill="#555" textLength="39.5" lengthAdjust="spacingAndGlyphs">1.085000</text>
<text x="1299.8" y="371.2" font-size="10.3" fill="#555" textLength="39.5" lengthAdjust="spacingAndGlyphs">1.080000</text>
<text x="1299.8" y="411.5" font-size="10.3" fill="#555" textLength="39.5" lengthAdjust="spacingAndGlyphs">1.075000</text>
<text x="1299.8" y="451.9" font-size="10.3" fill="#555" textLength="39.5" lengthAdjust="spacingAndGlyphs">1.070000</text>
<text x="1299.8" y="492.3" font-size="10.3" fill="#555" textLength="39.5" lengthAdjust="spacingAndGlyphs">1.065000</text>
<rect x="1292" y="53.3" width="52.8" height="14" rx="2" fill="#9b9da6"/>
<text x="1299.8" y="64.6" font-size="10.3" fill="#23252b" textLength="39.5" lengthAdjust="spacingAndGlyphs">1.118050</text>
<rect x="1292" y="70.7" width="52.8" height="28.6" rx="2" fill="#9b9da6"/>
<text x="1299.8" y="82.3" font-size="10.3" fill="#23252b" textLength="39.5" lengthAdjust="spacingAndGlyphs">1.115140</text>
<text x="1299.8" y="96.3" font-size="10.3" fill="#23252b" textLength="39.5" lengthAdjust="spacingAndGlyphs">1.114040</text>
<rect x="1292" y="132.3" width="52.8" height="14.8" rx="2" fill="#000"/>
<text x="1299.3" y="143.4" font-size="10.3" fill="#fff" font-weight="bold" textLength="41" lengthAdjust="spacingAndGlyphs">1.108280</text>
<rect x="1292" y="172" width="52.8" height="14.9" rx="2" fill="#f9a432"/>
<text x="1299.8" y="183.4" font-size="10.3" fill="#23252b" textLength="39.5" lengthAdjust="spacingAndGlyphs">1.103312</text>
<rect x="1292" y="186.9" width="52.8" height="14.5" rx="2" fill="#9b9da6"/>
<text x="1299.8" y="197.8" font-size="10.3" fill="#23252b" textLength="39.5" lengthAdjust="spacingAndGlyphs">1.103100</text>
<rect x="1292" y="201.9" width="52.8" height="14.6" rx="2" fill="#4c97f3"/>
<text x="1299.8" y="212.9" font-size="10.3" fill="#23252b" textLength="39.5" lengthAdjust="spacingAndGlyphs">1.099694</text>
<rect x="1292" y="216.5" width="52.8" height="14.5" rx="2" fill="#9b9da6"/>
<text x="1299.8" y="227.4" font-size="10.3" fill="#23252b" textLength="39.5" lengthAdjust="spacingAndGlyphs">1.098970</text>
<text x="415.8" y="540.6" font-size="10.3" fill="#555" textLength="30" lengthAdjust="spacingAndGlyphs">100.00</text>
<text x="1298.8" y="541.1" font-size="10.3" fill="#555" textLength="30" lengthAdjust="spacingAndGlyphs">100.00</text>
<text x="415.8" y="580.5" font-size="10.3" fill="#555" textLength="24.7" lengthAdjust="spacingAndGlyphs">80.00</text>
<text x="1298.8" y="580.4" font-size="10.3" fill="#555" textLength="24.7" lengthAdjust="spacingAndGlyphs">80.00</text>
<text x="415.8" y="620.3" font-size="10.3" fill="#555" textLength="24.7" lengthAdjust="spacingAndGlyphs">60.00</text>
<text x="1298.8" y="619.9" font-size="10.3" fill="#555" textLength="24.7" lengthAdjust="spacingAndGlyphs">60.00</text>
<text x="415.8" y="660.2" font-size="10.3" fill="#555" textLength="24.7" lengthAdjust="spacingAndGlyphs">40.00</text>
<text x="1298.8" y="659.1" font-size="10.3" fill="#555" textLength="24.7" lengthAdjust="spacingAndGlyphs">40.00</text>
<text x="415.8" y="700.2" font-size="10.3" fill="#555" textLength="24.7" lengthAdjust="spacingAndGlyphs">20.00</text>
<text x="1298.8" y="699.1" font-size="10.3" fill="#555" textLength="24.7" lengthAdjust="spacingAndGlyphs">20.00</text>
<text x="415.8" y="740.0" font-size="10.3" fill="#555" textLength="19.3" lengthAdjust="spacingAndGlyphs">0.00</text>
<text x="1298.8" y="738.2" font-size="10.3" fill="#555" textLength="19.3" lengthAdjust="spacingAndGlyphs">0.00</text>
<rect x="1292" y="547" width="37" height="14.7" rx="2" fill="#10369f"/>
<text x="1298.8" y="558.2" font-size="10.3" fill="#fff" font-weight="bold" textLength="25" lengthAdjust="spacingAndGlyphs">91.77</text>
<rect x="1292" y="588" width="37" height="14.7" rx="2" fill="#1c4dcb"/>
<text x="1298.8" y="599.2" font-size="10.3" fill="#fff" font-weight="bold" textLength="25" lengthAdjust="spacingAndGlyphs">70.69</text>
<text x="59.8" y="760.2" font-size="10.3" fill="#555" text-anchor="middle">Jul</text>
<text x="192.4" y="760.2" font-size="10.3" fill="#555" text-anchor="middle">2025</text>
<text x="320.5" y="760.2" font-size="10.3" fill="#555" text-anchor="middle">Jul</text>
<g clip-path="url(#ct)">
<text x="565.3" y="760.2" font-size="10.3" fill="#555" text-anchor="middle">Mar</text>
<text x="662.8" y="760.2" font-size="10.3" fill="#555" text-anchor="middle">Apr</text>
<text x="765.2" y="760.2" font-size="10.3" fill="#555" text-anchor="middle">May</text>
<text x="867.2" y="760.2" font-size="10.3" fill="#555" text-anchor="middle">Jun</text>
<text x="965.3" y="760.2" font-size="10.3" fill="#555" text-anchor="middle">Jul</text>
<text x="1071.8" y="760.2" font-size="10.3" fill="#555" text-anchor="middle">Aug</text>
<text x="1168.9" y="760.2" font-size="10.3" fill="#555" text-anchor="middle">Sep</text>
<text x="1270.8" y="760.2" font-size="10.3" fill="#555" text-anchor="middle">Oct</text>
<text x="481" y="760.2" font-size="10.3" fill="#555" text-anchor="end">Feb</text>
</g>
<text x="18" y="46" font-size="12" fill="#5a5a5a" textLength="264" lengthAdjust="spacingAndGlyphs">Australian Dollar / New Zealand Dollar · 1W · ICE</text>
<text x="290" y="46" font-size="12" fill="#5a5a5a">O</text>
<text x="298.5" y="46" font-size="12" fill="#2a2a2a" textLength="46.5" lengthAdjust="spacingAndGlyphs">1.105690</text>
<text x="353" y="46" font-size="12" fill="#5a5a5a" textLength="21" lengthAdjust="spacingAndGlyphs">H...</text>
<text x="479.5" y="46" font-size="12" fill="#5a5a5a" textLength="260.5" lengthAdjust="spacingAndGlyphs">Australian Dollar / New Zealand Dollar · 1D · ICE</text>
<text x="748.3" y="46" font-size="12" fill="#5a5a5a">O</text>
<text x="756.9" y="46" font-size="12" fill="#2a2a2a" textLength="46.5" lengthAdjust="spacingAndGlyphs">1.107970</text>
<text x="812.5" y="46" font-size="12" fill="#5a5a5a">H</text>
<text x="820.1" y="46" font-size="12" fill="#2a2a2a" textLength="46.5" lengthAdjust="spacingAndGlyphs">1.108450</text>
<text x="875.9" y="46" font-size="12" fill="#5a5a5a">L</text>
<text x="882.1" y="46" font-size="12" fill="#2a2a2a" textLength="46.5" lengthAdjust="spacingAndGlyphs">1.107970</text>
<text x="937.4" y="46" font-size="12" fill="#5a5a5a">C</text>
<text x="944.6" y="46" font-size="12" fill="#2a2a2a" textLength="46.5" lengthAdjust="spacingAndGlyphs">1.108280</text>
<text x="1000.2" y="46" font-size="12" fill="#2a2a2a" textLength="103" lengthAdjust="spacingAndGlyphs">+0.000870 (+0.08%)</text>
<text x="479.5" y="63" font-size="12" fill="#5a5a5a" textLength="31.5" lengthAdjust="spacingAndGlyphs">Pivots</text>
<text x="479.5" y="80" font-size="12" fill="#5a5a5a" textLength="55.5" lengthAdjust="spacingAndGlyphs">MA Ribbon</text>
<text x="543" y="80" font-size="12" fill="#f5a030" textLength="47.5" lengthAdjust="spacingAndGlyphs">1.103312</text>
<text x="598.5" y="80" font-size="12" fill="#4c8fea" textLength="47.5" lengthAdjust="spacingAndGlyphs">1.099694</text>
<text x="18.5" y="546" font-size="12" fill="#5a5a5a" textLength="15" lengthAdjust="spacingAndGlyphs">RSI</text>
<text x="41" y="546" font-size="12" fill="#3b66cf" textLength="30" lengthAdjust="spacingAndGlyphs">64.70</text>
<text x="18.5" y="563" font-size="12" fill="#5a5a5a" textLength="15" lengthAdjust="spacingAndGlyphs">RSI</text>
<text x="41" y="563" font-size="12" fill="#1c3a9e" textLength="30" lengthAdjust="spacingAndGlyphs">99.12</text>
<text x="479.5" y="546" font-size="12" fill="#5a5a5a" textLength="15" lengthAdjust="spacingAndGlyphs">RSI</text>
<text x="502" y="546" font-size="12" fill="#3b66cf" textLength="30" lengthAdjust="spacingAndGlyphs">70.69</text>
<text x="479.5" y="563" font-size="12" fill="#5a5a5a" textLength="15" lengthAdjust="spacingAndGlyphs">RSI</text>
<text x="502" y="563" font-size="12" fill="#1c3a9e" textLength="30" lengthAdjust="spacingAndGlyphs">91.77</text>
<g fill="#131313">
<path d="M12 792h12v15h-6v-9h-6z"/>
<circle cx="29.4" cy="794.6" r="2.4"/>
<path d="M34.2 792h7.8l-5.2 15h-7.6z"/>
</g>
<text x="49" y="806.8" font-size="20.5" fill="#131313" font-weight="bold" textLength="121" lengthAdjust="spacingAndGlyphs">TradingView</text>
</svg>
</body></html>
